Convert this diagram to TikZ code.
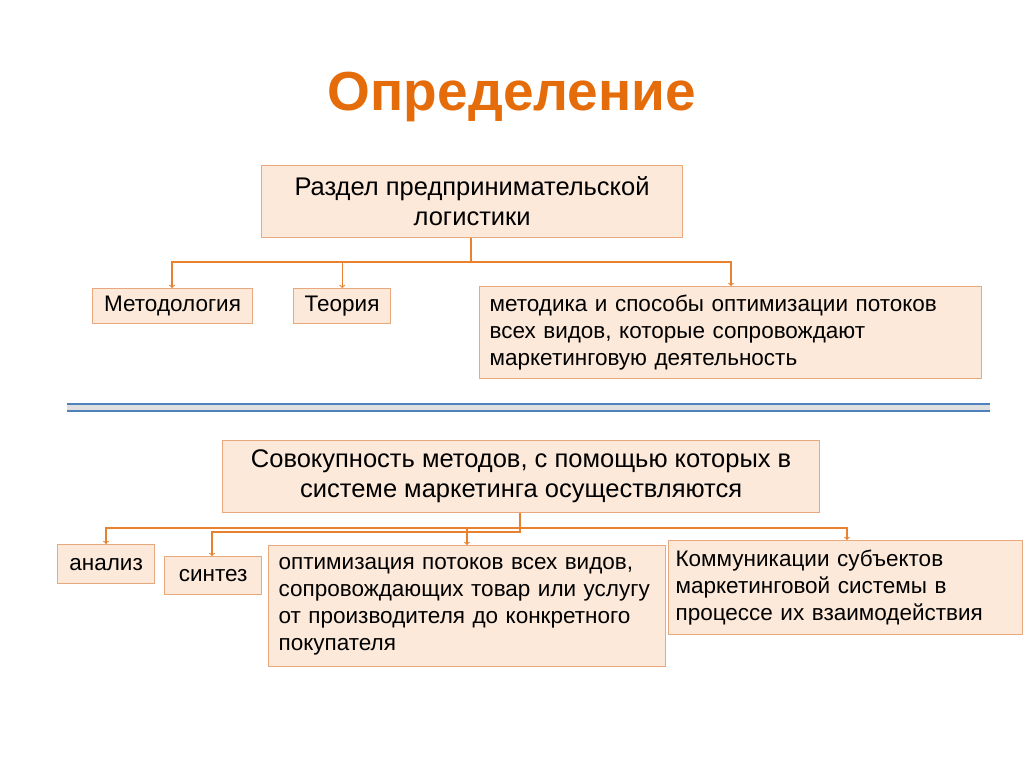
\documentclass[tikz,border=0pt]{standalone}
\usepackage{fontspec}
\setmainfont{Liberation Sans}
\usetikzlibrary{positioning,arrows}
\definecolor{boxfill}{HTML}{FCE9DA}
\definecolor{boxline}{HTML}{E8A97E}
\definecolor{orng}{HTML}{E46C0A}
\definecolor{lnblue}{HTML}{4F81BD}
\tikzstyle{blk}=[draw=boxline,fill=boxfill,line width=1.2pt,inner sep=0pt,font=\fontsize{22.5}{27}\selectfont,anchor=north west]
\tikzstyle{big}=[font=\fontsize{25.5}{30}\selectfont]
\tikzstyle{post}=[->,>=to,draw=orng!85,line width=1.1pt]

\begin{document}
\begin{tikzpicture}[x=1pt,y=-1pt]
        \useasboundingbox (0,0) rectangle (1024,767);
        \node[font=\fontsize{55}{60}\selectfont\bfseries,text=orng] (title) at (512,97) {Определение};
        % upper block
        \node[blk,big,minimum width=421pt,minimum height=72pt,align=center] (top) at (261,165) {Раздел предпринимательской\\логистики};
        \node[blk,minimum width=160pt,minimum height=35pt] (meth) at (92,288) {Методология};
        \node[blk,minimum width=97pt,minimum height=35pt] (theo) at (293,288) {Теория};
        \node[blk,minimum width=502pt,minimum height=92pt,text width=482pt,align=left] (tech) at (479,286) {методика и способы оптимизации потоков\\всех видов, которые сопровождают\\маркетинговую деятельность};
        \coordinate (bus1) at (471,262);
        \draw[post] (top.south -| bus1) -- (bus1) -| (meth.north -| 172,0);
        \draw[post] (bus1) -| (theo.north);
        \draw[post] (bus1) -| (tech.north -| 731,0);
        % separator
        \fill[gray!25] (67,404) rectangle (990,411);
        \draw[lnblue,line width=1.6pt] (67,404) -- (990,404);
        \draw[lnblue,line width=1.6pt] (67,411) -- (990,411);
        % lower block
        \node[blk,big,minimum width=597pt,minimum height=72pt,align=center] (set) at (222,440) {Совокупность методов, с помощью которых в\\системе маркетинга осуществляются};
        \node[blk,minimum width=97pt,minimum height=39pt] (anal) at (57,544) {анализ};
        \node[blk,minimum width=97pt,minimum height=38pt] (synt) at (164,556) {синтез};
        \node[blk,minimum width=397pt,minimum height=121pt,text width=377pt,align=left] (opt) at (268,545) {оптимизация потоков всех видов,\\сопровождающих товар или услугу\\от производителя до конкретного\\покупателя};
        \node[blk,minimum width=354pt,minimum height=94pt,text width=340pt,align=left] (comm) at (668,540) {Коммуникации субъектов\\маркетинговой системы в\\процессе их взаимодействия};
        \coordinate (bus2) at (520,528);
        \coordinate (bus3) at (520,532);
        \draw[post] (set.south -| bus2) -- (bus3) -| (synt.north -| 212,0);
        \draw[post] (bus2) -| (anal.north -| 106,0);
        \draw[post] (bus2) -| (opt.north -| 467,0);
        \draw[post] (bus2) -| (comm.north -| 847,0);
\end{tikzpicture}
\end{document}
